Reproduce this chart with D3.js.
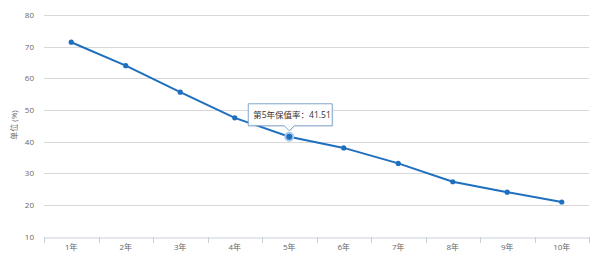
<!DOCTYPE html>
<html><head><meta charset="utf-8">
<script src="https://cdn.jsdelivr.net/npm/d3@7"></script>
<style>body{margin:0;background:#fff;}svg{display:block;font-family:"Open Sans","Noto Sans CJK SC",sans-serif;}</style>
</head><body><svg id="c" width="600" height="262"></svg>
<script>
const categories = ["1年","2年","3年","4年","5年","6年","7年","8年","9年","10年"];
const values = [71.4, 64.0, 55.6, 47.5, 41.51, 38.0, 33.1, 27.3, 24.0, 20.9];
const yTicks = [10,20,30,40,50,60,70,80];
const yLabel = "单位 (%)";
const tooltipIndex = 4;
const tooltipText = "第5年保值率：41.51";

(function () {
const svg = d3.select("#c");
const mLeft = 44, mRight = 589, mTop = 15, mBottom = 236.5;
const x = d3.scaleBand().domain(categories).range([mLeft, mRight]);
const y = d3.scaleLinear().domain([10, 80]).range([mBottom, mTop]);

// grid
svg.append("g").selectAll("line").data(yTicks.filter(d => d > 10)).join("line")
  .attr("x1", mLeft).attr("x2", mRight)
  .attr("y1", d => Math.round(y(d)) + 0.5).attr("y2", d => Math.round(y(d)) + 0.5)
  .attr("stroke", "#d8d8d8").attr("stroke-width", 1);

// y labels
svg.append("g").selectAll("text").data(yTicks).join("text")
  .attr("x", 34).attr("y", d => y(d) + 3)
  .attr("text-anchor", "end").attr("font-size", 8).attr("fill", "#666")
  .text(d => d);

svg.append("text").attr("transform", "translate(17,125) rotate(-90)")
  .attr("text-anchor", "middle").attr("font-size", 8).attr("fill", "#666").text(yLabel);

// x axis
const xAxis = d3.axisBottom(x).tickSize(0).tickPadding(7);
const gx = svg.append("g").attr("transform", `translate(0,${Math.round(mBottom) + 0.5})`).call(xAxis);
gx.select(".domain").attr("stroke", "#c8d0dc");
gx.selectAll("text").attr("font-size", 8).attr("fill", "#666").attr("font-family", "'Open Sans','Noto Sans CJK SC',sans-serif");
const bounds = categories.map(c => x(c)).concat([mRight]);
svg.append("g").selectAll("line").data(bounds).join("line")
  .attr("x1", d => Math.round(d) + 0.5).attr("x2", d => Math.round(d) + 0.5)
  .attr("y1", Math.round(mBottom)).attr("y2", Math.round(mBottom) + 6)
  .attr("stroke", "#c8d0dc");

// line
const cx = d => x(d) + x.bandwidth() / 2;
const line = d3.line().x((d, i) => cx(categories[i])).y(d => y(d));
svg.append("path").datum(values).attr("d", line)
  .attr("fill", "none").attr("stroke", "#1f6fbf").attr("stroke-width", 2);

svg.append("g").selectAll("circle").data(values).join("circle")
  .attr("cx", (d, i) => cx(categories[i])).attr("cy", d => y(d))
  .attr("r", (d, i) => i === tooltipIndex ? 4 : 2.6)
  .attr("fill", "#1f6fbf")
  .attr("stroke", (d, i) => i === tooltipIndex ? "#a9c9ea" : "none")
  .attr("stroke-width", (d, i) => i === tooltipIndex ? 2 : 0);

// tooltip
const tx = cx(categories[tooltipIndex]), ty = y(values[tooltipIndex]);
const bw = 84, bh = 22, bx = tx - 41, by = ty - 33;
const g = svg.append("g");
const p = `M${bx},${by} h${bw} v${bh} H${tx+5} L${tx},${by+bh+5} L${tx-5},${by+bh} H${bx} Z`;
g.append("path").attr("d", p).attr("fill", "rgba(0,0,0,0.08)").attr("transform", "translate(1,1)");
g.append("path").attr("d", p).attr("fill", "rgba(255,255,255,0.95)").attr("stroke", "#7fa6cf").attr("stroke-width", 1);
g.append("text").attr("x", bx + 5).attr("y", by + 14.5).attr("font-size", 8.5).attr("fill", "#333").text(tooltipText);
})();
</script></body></html>
